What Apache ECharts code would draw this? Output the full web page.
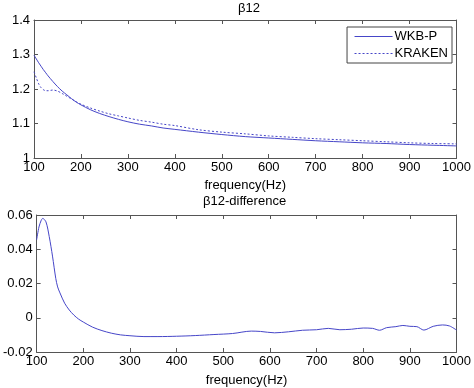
<!DOCTYPE html>
<html>
<head>
<meta charset="utf-8">
<script src="https://cdn.jsdelivr.net/npm/echarts@6/dist/echarts.min.js"></script>
<style>
html,body{margin:0;padding:0;background:#fff;}
#c{width:474px;height:388px;}
</style>
</head>
<body>
<div id="c"></div>
<script>
// ---- data ----
var freqTop = [100,105,110,115,120,125,130,140,150,160,170,180,190,200,220,240,260,280,300,325,350,375,400,450,500,550,600,650,700,750,800,850,900,950,1000];
var wkbP    = [1.298,1.287,1.276,1.266,1.256,1.247,1.238,1.222,1.207,1.194,1.183,1.172,1.162,1.154,1.140,1.129,1.120,1.112,1.105,1.098,1.093,1.087,1.083,1.075,1.068,1.062,1.058,1.054,1.050,1.047,1.044,1.042,1.039,1.037,1.035];
var kraken  = [1.250,1.232,1.215,1.204,1.198,1.195,1.195,1.197,1.194,1.187,1.179,1.171,1.163,1.156,1.145,1.136,1.128,1.122,1.116,1.109,1.104,1.098,1.094,1.082,1.075,1.070,1.064,1.060,1.056,1.053,1.050,1.047,1.044,1.042,1.041];

var freqDiff = [100,105,110,113,120,127,134,141,145,150,160,170,180,190,200,220,240,260,280,300,330,360,400,440,480,520,560,580,610,640,670,700,725,750,775,800,820,835,850,870,885,900,915,930,950,970,985,1000];
var diffVal  = [0.0455,0.053,0.057,0.058,0.056,0.0474,0.036,0.023,0.018,0.0145,0.0085,0.0045,0.0015,-0.0008,-0.0025,-0.0055,-0.0075,-0.009,-0.010,-0.0105,-0.011,-0.011,-0.0108,-0.0104,-0.0098,-0.0092,-0.0078,-0.0080,-0.0088,-0.0082,-0.0073,-0.0070,-0.0062,-0.0070,-0.0067,-0.0060,-0.0062,-0.0073,-0.0058,-0.0052,-0.0045,-0.0050,-0.0052,-0.0072,-0.0050,-0.0042,-0.0048,-0.0072];

var xTicks = {min:100, max:1000, interval:100};
var yTop = {min:1, max:1.4, interval:0.1};
var yBot = {min:-0.02, max:0.06, interval:0.02};

function pairs(xs, ys){ return xs.map(function(x,i){ return [x, ys[i]]; }); }

var FONT = 'Liberation Sans, Arial, sans-serif';
var FS = 13;
var AX = '#555';
var BLUE = '#4646c8';

function fmt(v){ return String(parseFloat(Number(v).toFixed(3))); }

function xAx(gi, pos, labels, name, gap){
  return {
    type:'value', gridIndex:gi, position:pos, min:xTicks.min, max:xTicks.max, interval:xTicks.interval,
    axisLine:{show:true, onZero:false, lineStyle:{color:AX, width:1}},
    axisTick:{show:true, inside:true, length:4, lineStyle:{color:AX}},
    axisLabel:{show:labels, color:'#000', fontSize:FS, fontFamily:FONT, margin:3, formatter:fmt},
    splitLine:{show:false},
    name: name || '', nameLocation:'middle', nameGap: gap || 0,
    nameTextStyle:{color:'#000', fontSize:FS, fontFamily:FONT}
  };
}
function yAx(gi, pos, labels, r){
  return {
    type:'value', gridIndex:gi, position:pos, min:r.min, max:r.max, interval:r.interval,
    axisLine:{show:true, onZero:false, lineStyle:{color:AX, width:1}},
    axisTick:{show:true, inside:true, length:4, lineStyle:{color:AX}},
    axisLabel:{show:labels, color:'#000', fontSize:FS, fontFamily:FONT, margin:4, formatter:fmt},
    splitLine:{show:false}
  };
}

var chart = echarts.init(document.getElementById('c'), null, {renderer:'canvas'});
chart.setOption({
  backgroundColor:'#fff',
  animation:false,
  title:[
    {text:'β12', top:2, left:238, padding:0, textStyle:{fontSize:FS, fontWeight:'normal', color:'#000', fontFamily:FONT}},
    {text:'β12-difference', top:195, left:203, padding:0, textStyle:{fontSize:FS, fontWeight:'normal', color:'#000', fontFamily:FONT}}
  ],
  legend:{
    data:['WKB-P','KRAKEN'],
    orient:'vertical', right:22, top:27,
    itemWidth:38, itemHeight:10, itemGap:4,
    itemStyle:{opacity:0, borderWidth:0},
    lineStyle:{width:1},
    backgroundColor:'#fff', borderColor:'#444', borderWidth:1, padding:[3,4,3,7],
    textStyle:{color:'#000', fontSize:FS, fontFamily:FONT, padding:[0,0,0,-3]}
  },
  grid:[
    {left:34, top:20, width:426, height:138, show:false},
    {left:34, top:215, width:426, height:138, show:false}
  ],
  xAxis:[
    xAx(0,'bottom',true,'frequency(Hz)',21),
    xAx(0,'top',false),
    xAx(1,'bottom',true,'frequency(Hz)',22),
    xAx(1,'top',false)
  ],
  yAxis:[
    yAx(0,'left',true,yTop),
    yAx(0,'right',false,yTop),
    yAx(1,'left',true,yBot),
    yAx(1,'right',false,yBot)
  ],
  series:[
    {name:'WKB-P', type:'line', xAxisIndex:0, yAxisIndex:0, data:pairs(freqTop, wkbP), showSymbol:false, symbol:'none', smooth:0.3,
     lineStyle:{color:BLUE, width:1}, itemStyle:{color:BLUE}},
    {name:'KRAKEN', type:'line', xAxisIndex:0, yAxisIndex:0, data:pairs(freqTop, kraken), showSymbol:false, symbol:'none', smooth:0.3,
     lineStyle:{color:BLUE, width:1, type:[2,2]}, itemStyle:{color:BLUE}},
    {name:'diff', type:'line', xAxisIndex:2, yAxisIndex:2, data:pairs(freqDiff, diffVal), showSymbol:false, symbol:'none', smooth:0.3,
     lineStyle:{color:BLUE, width:1}, itemStyle:{color:BLUE}}
  ]
});
</script>
</body>
</html>
